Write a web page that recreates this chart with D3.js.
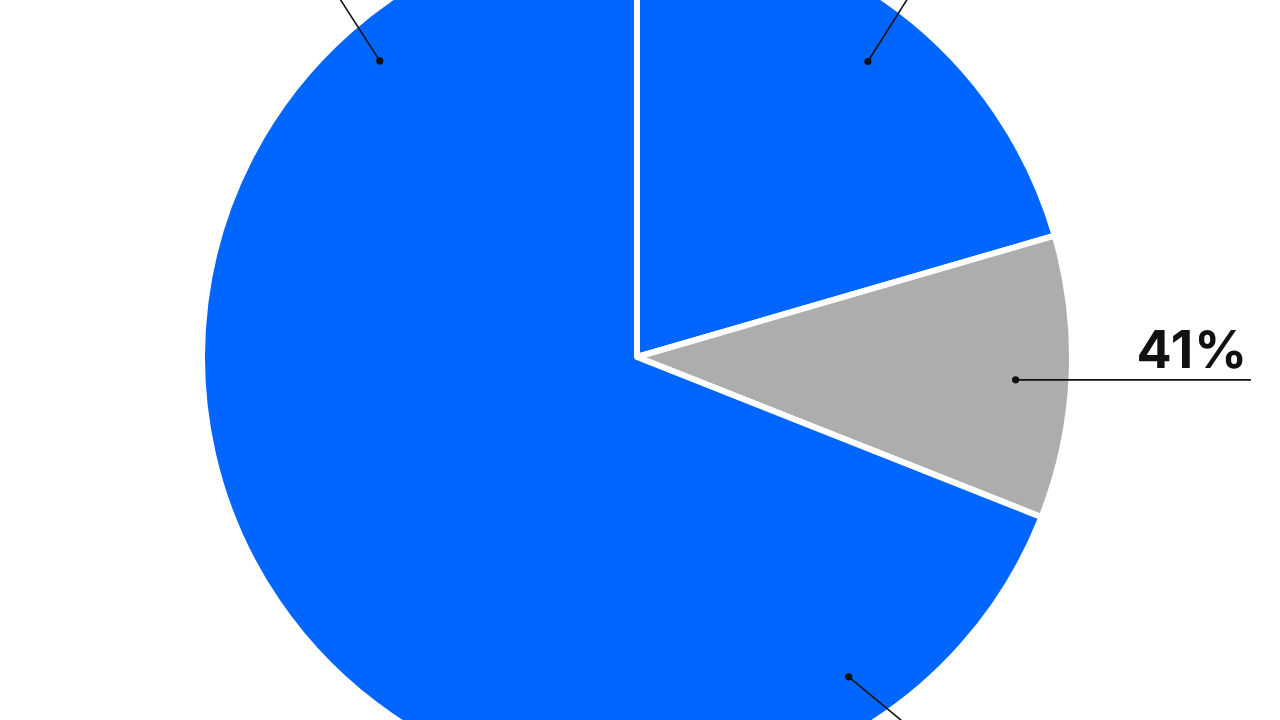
<!DOCTYPE html>
<html>
<head>
<meta charset="utf-8">
<script src="https://cdn.jsdelivr.net/npm/d3@7/dist/d3.min.js"></script>
<style>
  html, body { margin: 0; padding: 0; background: #ffffff; overflow: hidden; }
  svg { display: block; }
</style>
</head>
<body>
<svg id="chart" width="1280" height="720"></svg>
<script>
// ---- data ----
const categories = ["Slice A", "Slice B", "Slice C"];
const values = [20.5, 10.5, 69.0];
const labels = ["", "41%", ""];
const colors = ["#0066ff", "#adadad", "#0066ff"];

// ---- callout layout (slice index, fraction along slice, radius factors) ----
const callouts = [
  { slice: 0, t: 0.515, tOut: 0.496, r: 0.87, rOut: 1.15, text: labels[0] },
  { slice: 1, t: 0.52, tOut: null, r: 0.88, rOut: null, text: labels[1] },
  { slice: 2, t: 0.1405, tOut: 0.1248, r: 0.89, rOut: 1.15, text: labels[2] },
  { slice: 2, t: 0.835, tOut: 0.842, r: 0.91, rOut: 1.15, text: labels[2] }
];

const W = 1280, H = 720;
const cx = 637, cy = 357, R = 435;
const Rv = 431; // visible radius (white stroke covers the rim)

const svg = d3.select("#chart");
const g = svg.append("g").attr("transform", `translate(${cx},${cy})`);

const pie = d3.pie().sort(null).value(d => d.value);
const arcs = pie(categories.map((c, i) => ({ name: c, value: values[i], color: colors[i] })));
const arc = d3.arc().innerRadius(0).outerRadius(R);

g.selectAll("path.slice")
  .data(arcs)
  .join("path")
  .attr("class", "slice")
  .attr("d", arc)
  .attr("fill", d => d.data.color)
  .attr("stroke", "#ffffff")
  .attr("stroke-width", 6)
  .attr("stroke-linejoin", "round");

const angleAt = (a, t) => a.startAngle + (a.endAngle - a.startAngle) * t;

const cg = g.append("g").attr("class", "callouts");
callouts.forEach(c => {
  const a = arcs[c.slice];
  const p = d3.pointRadial(angleAt(a, c.t), Rv * c.r);
  if (c.tOut !== null) {
    const q = d3.pointRadial(angleAt(a, c.tOut), Rv * c.rOut);
    const far = [p[0] + (q[0] - p[0]) * 2, p[1] + (q[1] - p[1]) * 2];
    cg.append("line")
      .attr("x1", p[0]).attr("y1", p[1])
      .attr("x2", far[0]).attr("y2", far[1])
      .attr("stroke", "#111").attr("stroke-width", 1.6);
  } else {
    const xEnd = W - 29 - cx;
    cg.append("line")
      .attr("x1", p[0]).attr("y1", p[1])
      .attr("x2", xEnd).attr("y2", p[1])
      .attr("stroke", "#111").attr("stroke-width", 1.6);
    cg.append("text")
      .attr("x", xEnd - 3)
      .attr("y", p[1] - 12)
      .attr("text-anchor", "end")
      .attr("font-family", "Inter, 'DejaVu Sans', sans-serif")
      .attr("font-weight", 700)
      .attr("font-size", 52)
      .attr("letter-spacing", 1)
      .attr("fill", "#111")
      .text(c.text);
  }
  cg.append("circle")
    .attr("cx", p[0]).attr("cy", p[1])
    .attr("r", 3.6)
    .attr("fill", "#111");
});
</script>
</body>
</html>
